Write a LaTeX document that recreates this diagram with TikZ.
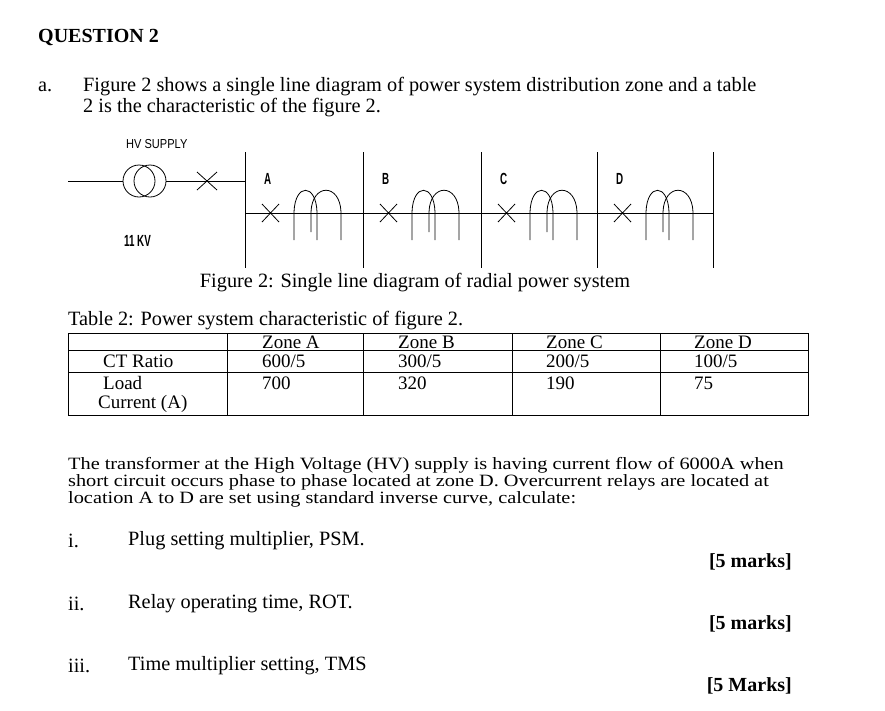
\documentclass[tikz,border=0pt]{standalone}
\usepackage{fontspec}
\setmainfont{Liberation Serif}
\newfontfamily\diag{Liberation Sans}
\begin{document}
\begin{tikzpicture}[x=1pt,y=-1pt,
  txt/.style={anchor=west,inner sep=0pt,font=\fontsize{20.3}{20}\selectfont},
  ptx/.style={anchor=west,inner sep=0pt,font=\fontsize{20.3}{20}\selectfont,yscale=0.85},
  tb/.style={anchor=west,inner sep=0pt,font=\fontsize{19}{19}\selectfont},
  ln/.style={line width=0.8pt},
  bus/.style={line width=0.7pt},
  lbl/.style={anchor=west,inner sep=0pt,font=\diag\bfseries\fontsize{14}{14}\selectfont,xscale=0.7,yscale=1.15}]
\useasboundingbox (0,0) rectangle (885,710);
\node[txt,font=\bfseries\fontsize{20}{20}\selectfont] (q) at (38,37) {QUESTION 2};
\node[txt] (a) at (38,87) {a.};
\node[txt] (l1) at (83,87) {Figure 2 shows a single line diagram of power system distribution zone and a table};
\node[txt] (l2) at (83,108) {2 is the characteristic of the figure 2.};
% diagram
\node[anchor=west,inner sep=0pt,font=\diag\fontsize{13}{13}\selectfont,xscale=0.85] (hv) at (126,144) {HV SUPPLY};
\node[lbl] (kv) at (124,241) {11 KV};
\coordinate (s0) at (68,181);
\coordinate (s1) at (245,181);
\draw[ln] (s0) -- (123,181);
\draw[ln] (139,181) circle (16);
\draw[ln] (150,181) circle (16);
\draw[ln] (166,181) -- (s1);
\draw[ln] (197,172) -- (217,190) (197,190) -- (217,172);
\foreach \x in {245,363,481,597,713} \draw[bus] (\x,152) -- (\x,268);
\draw[bus] (245,213) -- (713,213);
\foreach \x/\l in {245/A,363/B,481/C,597/D}{
  \node[lbl] at (\x+19,179) {\l};
  \draw[ln] (\x+17,204) -- (\x+34,222) (\x+17,222) -- (\x+34,204);
  \draw[ln] (\x+49,240) -- (\x+49,212) .. controls (\x+50,183) and (\x+71,183) .. (\x+72,212) -- (\x+72,240);
  \draw[ln] (\x+66,232) -- (\x+66,212) .. controls (\x+67,183) and (\x+95,183) .. (\x+96,212) -- (\x+96,240);
}
\node[anchor=center,inner sep=0pt,font=\fontsize{20.3}{20}\selectfont] (cap) at (415,283) {Figure 2: Single line diagram of radial power system};
% table
\node[txt] (tc) at (68,321) {Table 2: Power system characteristic of figure 2.};
\draw[line width=0.6pt] (68,333) rectangle (808,415);
\foreach \y in {350,372} \draw[line width=0.6pt] (68,\y) -- (808,\y);
\foreach \x in {227,363,512,660} \draw[line width=0.6pt] (\x,333) -- (\x,415);
\node[tb] at (262,342) {Zone A};
\node[tb] at (398,342) {Zone B};
\node[tb] at (546,342) {Zone C};
\node[tb] at (694,342) {Zone D};
\node[tb] at (103,361) {CT Ratio};
\node[tb] at (262,361) {600/5};
\node[tb] at (398,361) {300/5};
\node[tb] at (546,361) {200/5};
\node[tb] at (694,361) {100/5};
\node[tb] at (103,383) {Load};
\node[tb] at (98,404) {Current (A)};
\node[tb] at (262,383) {700};
\node[tb] at (398,383) {320};
\node[tb] at (546,383) {190};
\node[tb] at (694,383) {75};
% paragraph
\node[ptx] at (68,465) {The transformer at the High Voltage (HV) supply is having current flow of 6000A when};
\node[ptx] at (68,482) {short circuit occurs phase to phase located at zone D. Overcurrent relays are located at};
\node[ptx] at (68,499) {location A to D are set using standard inverse curve, calculate:};
\node[txt] at (68,541) {i.};
\node[txt] at (128,541) {Plug setting multiplier, PSM.};
\node[txt,anchor=east,font=\bfseries\fontsize{20}{20}\selectfont] at (792,562) {[5 marks]};
\node[txt] at (68,604) {ii.};
\node[txt] at (128,604) {Relay operating time, ROT.};
\node[txt,anchor=east,font=\bfseries\fontsize{20}{20}\selectfont] at (792,624) {[5 marks]};
\node[txt] at (68,666) {iii.};
\node[txt] at (128,666) {Time multiplier setting, TMS};
\node[txt,anchor=east,font=\bfseries\fontsize{20}{20}\selectfont] at (792,686) {[5 Marks]};
\end{tikzpicture}
\end{document}
